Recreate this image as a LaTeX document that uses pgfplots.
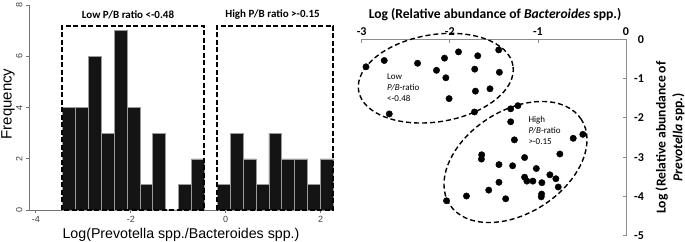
\documentclass[border=0pt]{standalone}
\usepackage{pgfplots}
\pgfplotsset{compat=1.18}
\usepackage{fontspec}
\setmainfont{Liberation Sans}
\newfontfamily\carlito{Carlito}
\begin{document}
\begin{tikzpicture}
\path[use as bounding box] (0,0) rectangle (685pt,241pt);
% ---------------- left: histogram ----------------
\begin{axis}[
  at={(29pt,31pt)}, anchor=south west, scale only axis,
  width=304.3pt, height=205pt,
  xmin=-4.143, xmax=2.265, ymin=0, ymax=8,
  axis x line*=bottom, axis y line*=left,
  axis line style={draw=black!55, line width=0.6pt, -},
  xtick={-4,-2,0,2}, ytick={0,2,4,6,8},
  tick align=outside, major tick length=3pt,
  tick style={draw=black!55, line width=0.6pt},
  /pgf/number format/assume math mode=true,
  ticklabel style={font=\fontsize{9}{9}\selectfont, text=black!75},
  yticklabel style={rotate=90, anchor=south},
  clip=false,
]
\addplot[ybar interval, fill=black!92, draw=black!40, line width=0.5pt] coordinates {
(-3.440,4) (-3.168,4) (-2.897,6) (-2.625,3) (-2.353,7) (-2.081,4)
(-1.810,1) (-1.538,3) (-1.266,0) (-0.995,1) (-0.723,2) (-0.451,0)};
\addplot[ybar interval, fill=black!92, draw=black!40, line width=0.5pt] coordinates {
(-0.180,1) (0.092,3) (0.364,2) (0.636,1) (0.907,3) (1.179,2)
(1.451,2) (1.722,1) (1.994,2) (2.266,0)};
\draw[black, line width=2pt, dash pattern=on 5pt off 2.5pt] (axis cs:-3.44,0) rectangle (axis cs:-0.451,7.18);
\draw[black, line width=2pt, dash pattern=on 5pt off 2.5pt] (axis cs:-0.180,0) rectangle (axis cs:2.266,7.18);
\end{axis}
\node[rotate=90, font=\fontsize{15}{15}\selectfont] at (8pt,137pt) {Frequency};
\node[anchor=base, font=\fontsize{14.2}{14.2}\selectfont, inner sep=0pt] at (181pt,2.5pt) {Log(Prevotella spp./Bacteroides spp.)};
\node[font=\carlito\bfseries\fontsize{11}{11}\selectfont] at (128pt,226pt) {Low P/B ratio <-0.48};
\node[font=\carlito\bfseries\fontsize{11}{11}\selectfont] at (272.5pt,226pt) {High P/B ratio >-0.15};
% ---------------- right: scatter ----------------
\begin{axis}[
  at={(361.7pt,5.3pt)}, anchor=south west, scale only axis,
  width=264.3pt, height=196.4pt,
  xmin=-3, xmax=0, ymin=-5, ymax=0,
  axis x line*=top, axis y line*=right,
  axis line style={draw=black!45, line width=0.8pt, -},
  xtick={-3,-2,-1,0}, ytick={-5,-4,-3,-2,-1,0},
  tick align=inside, major tick length=3.5pt,
  tick style={draw=black!45, line width=0.8pt},
  /pgf/number format/assume math mode=true,
  ticklabel style={font=\carlito\bfseries\fontsize{12}{12}\selectfont},
  yticklabel style={anchor=east, xshift=21.5pt},
  clip=false,
]
\addplot[only marks, mark=*, mark size=3.2pt, black] coordinates {
(-2.951,-0.70) (-2.744,-0.54) (-2.366,-0.61) (-2.060,-0.48) (-1.901,-0.32)
(-1.683,-0.42) (-1.445,-0.27) (-2.151,-0.79) (-2.045,-0.98) (-1.717,-0.76)
(-1.437,-0.84) (-1.709,-1.32) (-1.544,-1.26) (-2.008,-1.51) (-2.687,-1.90)
(-1.720,-1.85)};
\addplot[only marks, mark=*, mark size=3.2pt, black] coordinates {
(-1.309,-1.77) (-1.227,-1.69) (-1.309,-2.10) (-1.267,-2.56) (-0.599,-2.52)
(-0.490,-2.42) (-1.638,-2.94) (-1.641,-3.05) (-1.151,-3.01) (-0.751,-2.92)
(-1.442,-3.19) (-1.287,-3.22) (-1.018,-3.29) (-1.151,-3.51) (-1.125,-3.61)
(-1.057,-3.61) (-0.864,-3.45) (-0.796,-3.55) (-0.955,-3.65) (-0.769,-3.76)
(-1.442,-3.64) (-1.558,-3.84) (-0.958,-3.94) (-0.962,-4.01) (-1.811,-3.99)
(-1.366,-4.06) (-2.037,-4.11)};
\end{axis}
\draw[black, line width=1.4pt, dash pattern=on 5pt off 3pt, rotate around={9.2:(435.8pt,162.8pt)}] (435.8pt,162.8pt) ellipse [x radius=78.2pt, y radius=43.6pt];
\draw[black, line width=1.4pt, dash pattern=on 5pt off 3pt, rotate around={32.8:(515.5pt,79pt)}] (515.5pt,79pt) ellipse [x radius=78.4pt, y radius=51.3pt];
\node[anchor=north west, align=left, inner sep=0pt, font=\carlito\fontsize{9}{10.8}\selectfont] at (387pt,167pt) {Low\\\textit{P/B}-ratio\\<-0.48};
\node[anchor=north west, align=left, inner sep=0pt, font=\carlito\fontsize{9}{10.8}\selectfont] at (528.3pt,124.5pt) {High\\\textit{P/B}-ratio\\>-0.15};
\node[font=\carlito\bfseries\fontsize{13.6}{13.6}\selectfont] at (495pt,226pt) {Log (Relative abundance of \textit{Bacteroides} spp.)};
\node[rotate=90, align=center, font=\carlito\bfseries\fontsize{13.6}{16.6}\selectfont] at (670pt,103.5pt) {Log (Relative abundance of\\\textit{Prevotella} spp.)};
\end{tikzpicture}
\end{document}
